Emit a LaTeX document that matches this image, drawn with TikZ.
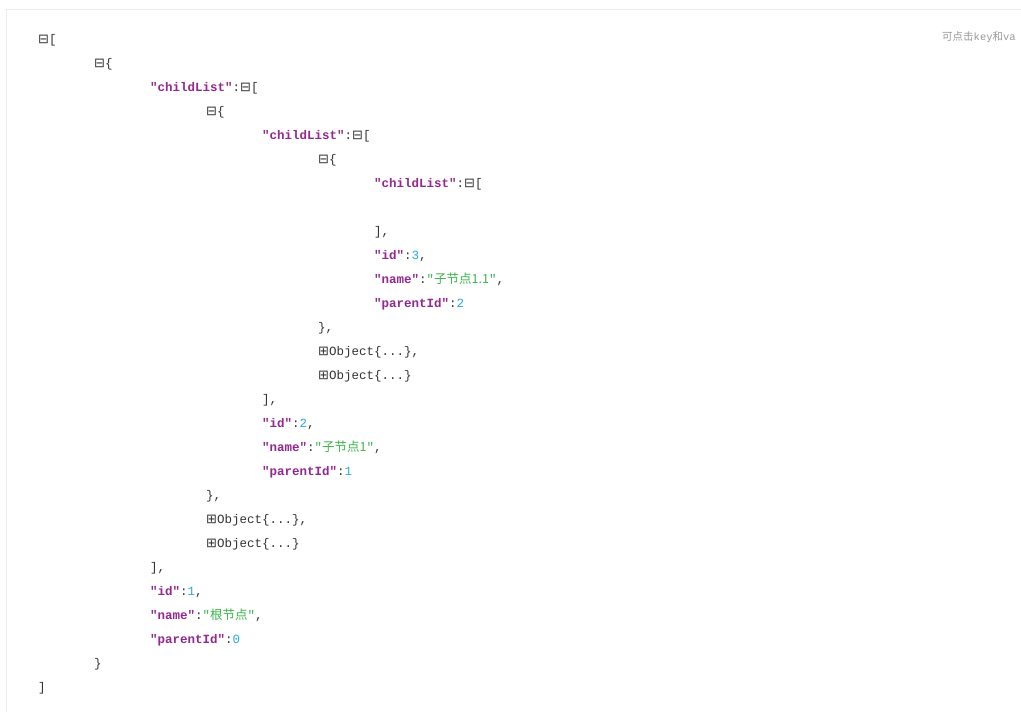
\documentclass[tikz,border=0pt]{standalone}
\usepackage{fontspec}
\setmonofont{Liberation Mono}
\newfontfamily\cjk{Noto Sans CJK SC}
\newfontfamily\sym{DejaVu Sans}
\definecolor{kcol}{HTML}{92278F}
\definecolor{scol}{HTML}{3AB54A}
\definecolor{ncol}{HTML}{25AAE2}
\definecolor{pcol}{HTML}{333333}
\newcommand{\K}[1]{\textcolor{kcol}{\bfseries"#1"}}
\newcommand{\Sx}[1]{\textcolor{scol}{"{\cjk #1}"}}
\newcommand{\N}[1]{\textcolor{ncol}{#1}}
\newcommand{\Mi}{{\sym\fontsize{13pt}{13pt}\selectfont ⊟}}
\newcommand{\Pl}{{\sym\fontsize{13pt}{13pt}\selectfont ⊞}}
\begin{document}
\begin{tikzpicture}[x=1pt,y=-1pt,
  ln/.style={anchor=base west,inner sep=0pt,font=\ttfamily\fontsize{12.5pt}{14pt}\selectfont,text=pcol}]
\useasboundingbox (0,0) rectangle (1021,712);
\fill[white] (0,0) rectangle (1021,712);
\draw[gray!15,line width=1.5pt] (6,9.5) -- (1021,9.5);
\draw[gray!15,line width=1.5pt] (6.5,9) -- (6.5,712);
\node[anchor=base west,inner sep=0pt,text=gray!80,font=\fontsize{10.5pt}{12pt}\selectfont] (hint) at (942,40) {{\cjk 可点击}\ttfamily key{\cjk 和}va};
\node[ln] (l0) at (38,43) {\Mi[};
\node[ln] (l1) at (94,67) {\Mi\{};
\node[ln] (l2) at (150,91) {\K{childList}:\Mi[};
\node[ln] (l3) at (206,115) {\Mi\{};
\node[ln] (l4) at (262,139) {\K{childList}:\Mi[};
\node[ln] (l5) at (318,163) {\Mi\{};
\node[ln] (l6) at (374,187) {\K{childList}:\Mi[};
\node[ln] (l8) at (374,235) {],};
\node[ln] (l9) at (374,259) {\K{id}:\N{3},};
\node[ln] (l10) at (374,283) {\K{name}:\Sx{子节点1.1},};
\node[ln] (l11) at (374,307) {\K{parentId}:\N{2}};
\node[ln] (l12) at (318,331) {\},};
\node[ln] (l13) at (318,355) {\Pl Object\{...\},};
\node[ln] (l14) at (318,379) {\Pl Object\{...\}};
\node[ln] (l15) at (262,403) {],};
\node[ln] (l16) at (262,427) {\K{id}:\N{2},};
\node[ln] (l17) at (262,451) {\K{name}:\Sx{子节点1},};
\node[ln] (l18) at (262,475) {\K{parentId}:\N{1}};
\node[ln] (l19) at (206,499) {\},};
\node[ln] (l20) at (206,523) {\Pl Object\{...\},};
\node[ln] (l21) at (206,547) {\Pl Object\{...\}};
\node[ln] (l22) at (150,571) {],};
\node[ln] (l23) at (150,595) {\K{id}:\N{1},};
\node[ln] (l24) at (150,619) {\K{name}:\Sx{根节点},};
\node[ln] (l25) at (150,643) {\K{parentId}:\N{0}};
\node[ln] (l26) at (94,667) {\}};
\node[ln] (l27) at (38,691) {]};
\end{tikzpicture}
\end{document}
